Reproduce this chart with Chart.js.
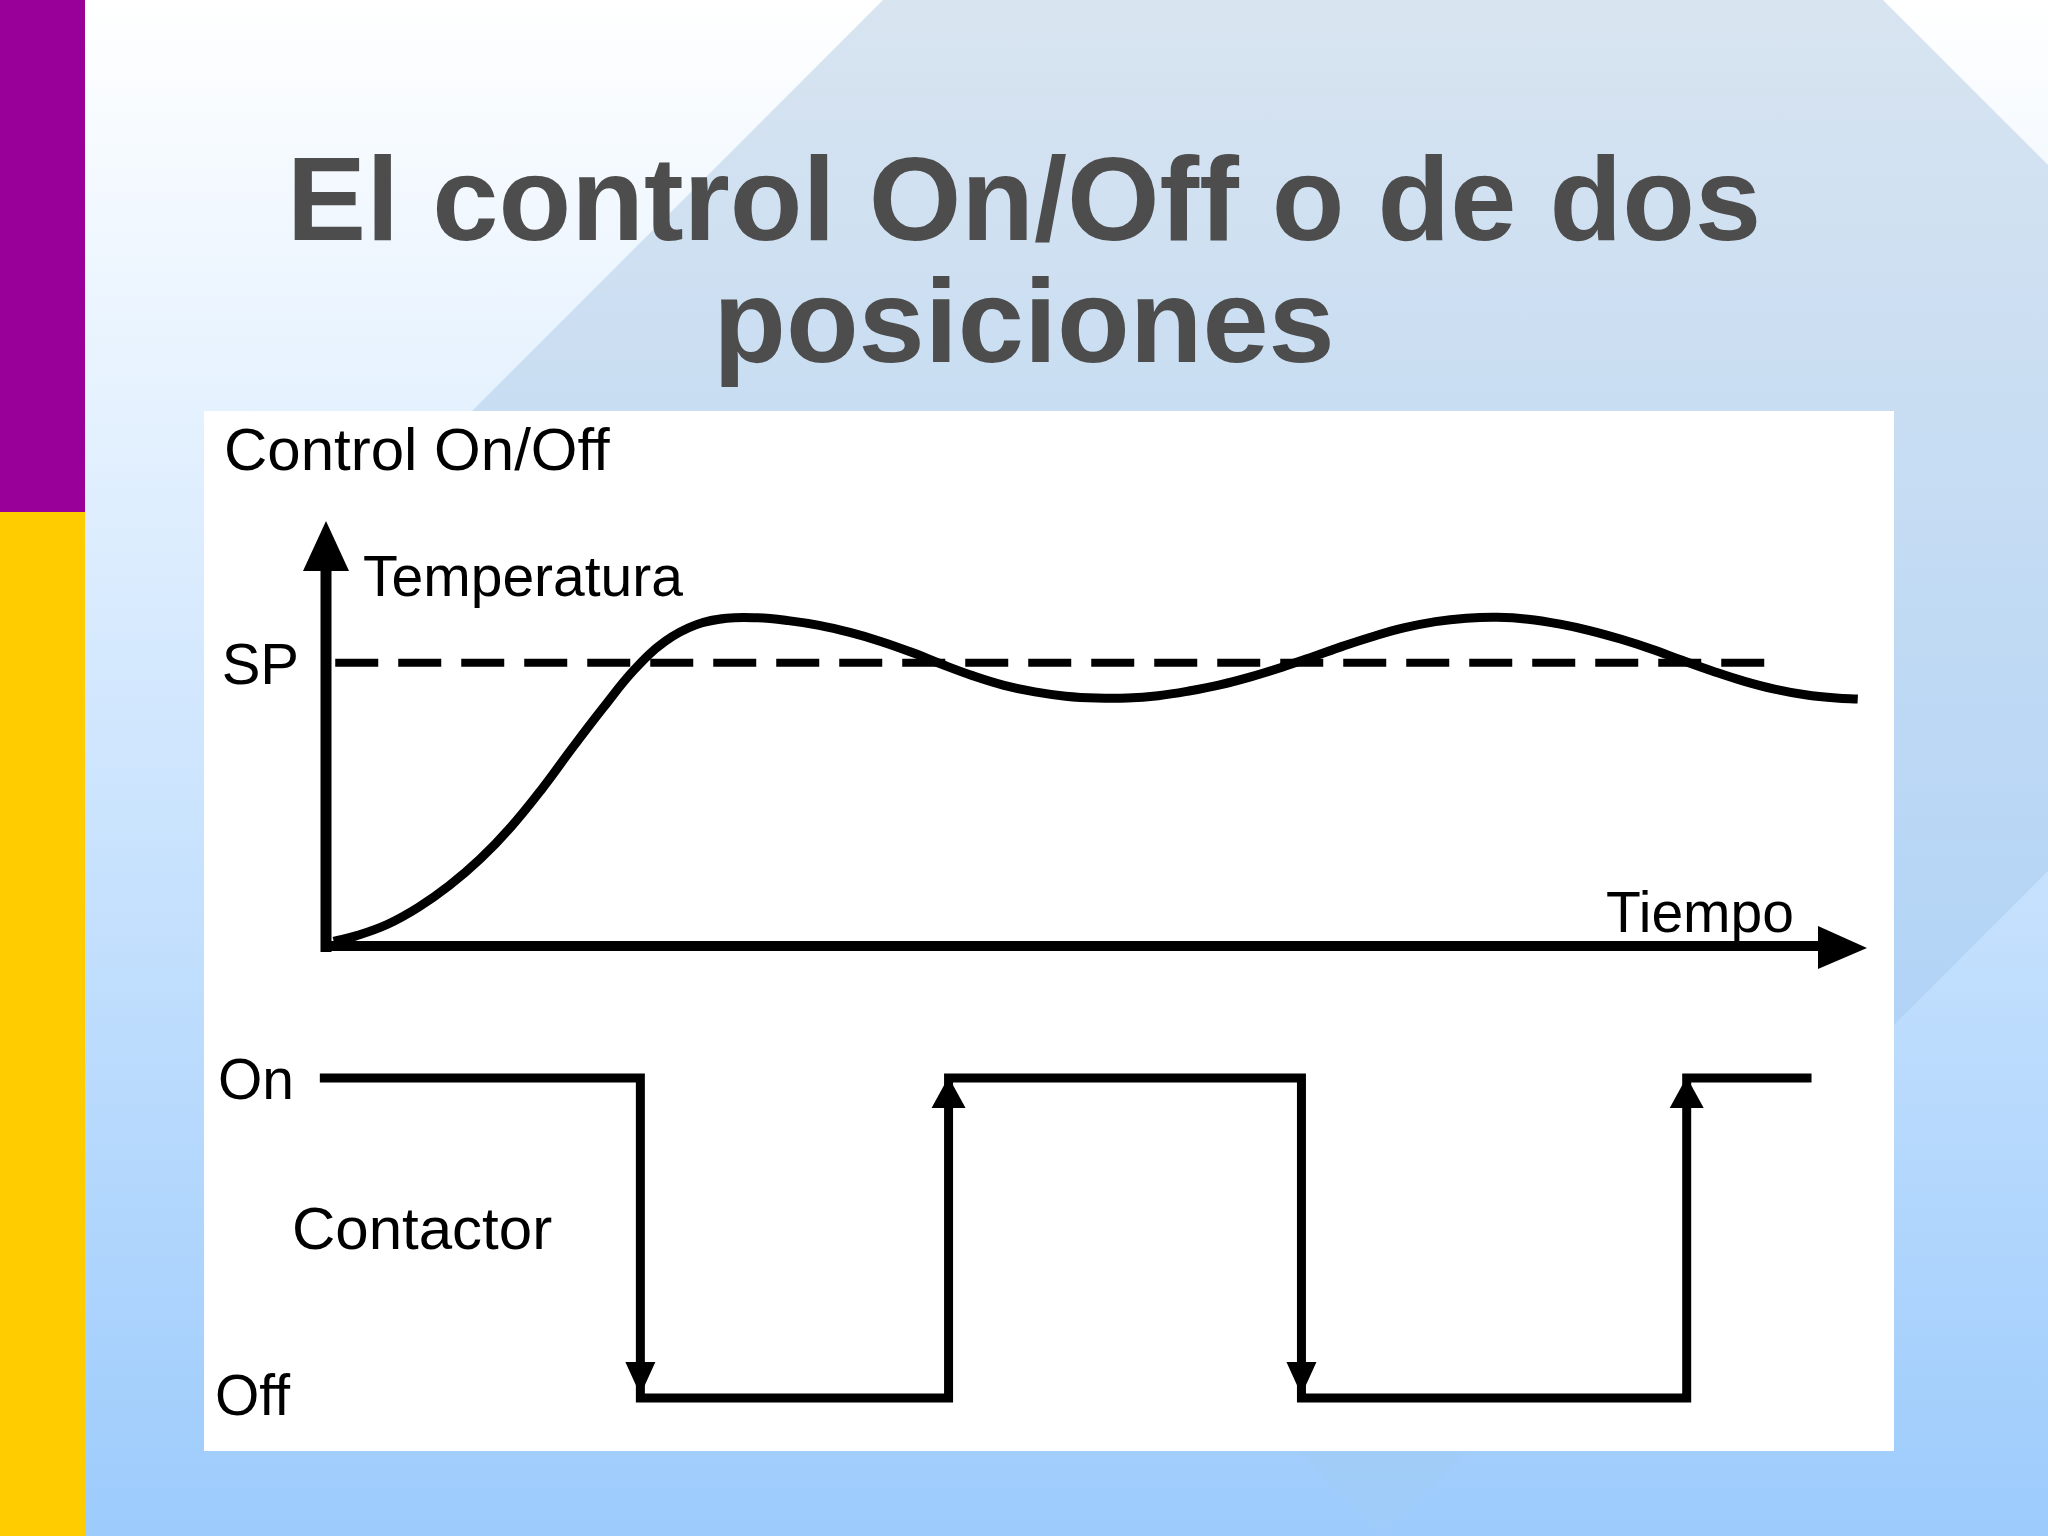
<!DOCTYPE html>
<html>
<head>
<meta charset="utf-8">
<script src="https://cdn.jsdelivr.net/npm/chart.js@4.4.1/dist/chart.umd.min.js"></script>
<style>
html,body{margin:0;padding:0;}
body{width:2048px;height:1536px;position:relative;overflow:hidden;
  background:linear-gradient(to bottom,#ffffff 0%,#9ccbfc 100%);
  font-family:"Liberation Sans",Arial,sans-serif;}
#diamond{position:absolute;left:0;top:0;width:2048px;height:1536px;
  background:linear-gradient(to bottom,#d8e4f0 0%,#9ecbf9 100%);
  clip-path:polygon(1383px -500px,2401px 518px,1383px 1536px,365px 518px);}
#purple{position:absolute;left:0;top:0;width:85px;height:512px;background:#990099;}
#yellow{position:absolute;left:0;top:512px;width:85px;height:1024px;background:#ffcc00;}
#title{position:absolute;left:0;top:138px;width:2048px;text-align:center;font-weight:bold;
  font-size:119px;line-height:122px;color:#4d4d4d;margin:0;}
#box{position:absolute;left:204px;top:411px;width:1690px;height:1040px;background:#ffffff;}
#box canvas{position:absolute;left:0;top:0;}
</style>
</head>
<body>
<div id="diamond"></div>
<div id="purple"></div>
<div id="yellow"></div>
<h1 id="title">El control On/Off o de dos<br>posiciones</h1>
<div id="box"><canvas id="c" width="1690" height="1040"></canvas></div>
<script>
// ---- data ----
const timeTemp = [0.5, 2, 4, 6, 8, 10, 12, 14, 16, 18, 20, 22, 24, 26, 28, 30, 32, 34, 36, 38,
  40, 42, 44, 46, 48, 50, 52, 54, 56, 58, 60, 62, 64, 66, 68, 70, 72, 74, 76, 78,
  80, 82, 84, 86, 88, 90, 92, 94, 96, 98, 99.4];
const temperature = [1.0, 2.2, 4.6, 8.2, 12.8, 18.4, 25.2, 33.2, 42.0, 50.5, 58.5, 64.5, 68.0, 69.4, 69.5, 68.9, 67.9, 66.4, 64.5, 62.2,
  59.6, 57.2, 55.2, 53.8, 52.9, 52.5, 52.5, 53.0, 54.0, 55.3, 57.0, 59.0, 61.2, 63.5, 65.6, 67.4, 68.7, 69.4, 69.6, 69.2,
  68.2, 66.8, 65.0, 62.9, 60.5, 58.2, 56.1, 54.4, 53.2, 52.5, 52.3];
const setPoint = 60;
const setPointSpan = [0.6, 94.6];
const contactorTime = [-0.4, 20.4, 40.4, 63.3, 88.3, 96.4];
const contactorState = [1, 0, 1, 0, 1, 1];
const stateNames = ['Off', 'On'];
const chartTitle = 'Control On/Off';
const yAxisTitle = 'Temperatura';
const xAxisTitle = 'Tiempo';
const spLabel = 'SP';
const contactorLabel = 'Contactor';

const F = '"Liberation Sans", Arial, sans-serif';

const diagramPlugin = {
  id: 'diagram',
  afterDatasetsDraw(chart) {
    const ctx = chart.ctx;
    const x = chart.scales.x, yT = chart.scales.yT, yC = chart.scales.yC;
    const x0 = x.getPixelForValue(0);
    const y0 = yT.getPixelForValue(0);
    const yTop = yT.getPixelForValue(yT.max);
    const xEnd = x.getPixelForValue(x.max);
    ctx.save();
    ctx.fillStyle = '#000';
    ctx.strokeStyle = '#000';
    ctx.lineCap = 'butt';
    // vertical axis with arrow
    ctx.lineWidth = 11;
    ctx.beginPath(); ctx.moveTo(x0, y0 + 6); ctx.lineTo(x0, yTop + 46); ctx.stroke();
    ctx.beginPath(); ctx.moveTo(x0, yTop); ctx.lineTo(x0 - 23, yTop + 50); ctx.lineTo(x0 + 23, yTop + 50); ctx.closePath(); ctx.fill();
    // horizontal axis with arrow
    ctx.lineWidth = 10;
    ctx.beginPath(); ctx.moveTo(x0 - 5, y0); ctx.lineTo(xEnd - 45, y0); ctx.stroke();
    ctx.beginPath(); ctx.moveTo(xEnd, y0 + 2); ctx.lineTo(xEnd - 49, y0 - 20); ctx.lineTo(xEnd - 49, y0 + 23); ctx.closePath(); ctx.fill();
    // contactor arrows
    for (let i = 1; i < contactorTime.length; i++) {
      if (contactorState[i] === contactorState[i - 1]) continue;
      const xp = x.getPixelForValue(contactorTime[i]);
      if (contactorState[i] < contactorState[i - 1]) {
        const tip = yC.getPixelForValue(0) - 3;
        ctx.beginPath(); ctx.moveTo(xp, tip); ctx.lineTo(xp - 15, tip - 33); ctx.lineTo(xp + 15, tip - 33); ctx.closePath(); ctx.fill();
      } else {
        const tip = yC.getPixelForValue(1) - 1;
        ctx.beginPath(); ctx.moveTo(xp, tip); ctx.lineTo(xp - 17, tip + 31); ctx.lineTo(xp + 17, tip + 31); ctx.closePath(); ctx.fill();
      }
    }
    // texts
    ctx.textBaseline = 'alphabetic';
    ctx.textAlign = 'left';
    ctx.font = '60px ' + F;
    ctx.fillText(chartTitle, 20, 59);
    ctx.font = '57px ' + F;
    ctx.fillText(yAxisTitle, x0 + 37, 185);
    ctx.textAlign = 'right';
    ctx.font = '58px ' + F;
    ctx.fillText(spLabel, x0 - 27, yT.getPixelForValue(setPoint) + 21);
    ctx.font = '57px ' + F;
    ctx.fillText(xAxisTitle, xEnd - 73, y0 - 14);
    ctx.textAlign = 'left';
    ctx.fillText(stateNames[1], 14, yC.getPixelForValue(1) + 21);
    ctx.fillText(stateNames[0], 11, yC.getPixelForValue(0) + 17);
    ctx.font = '60px ' + F;
    ctx.fillText(contactorLabel, 88, yC.getPixelForValue(0.5) + 11);
    ctx.restore();
  }
};

new Chart(document.getElementById('c'), {
  type: 'line',
  data: {
    datasets: [
      {
        label: yAxisTitle,
        data: timeTemp.map((t, i) => ({ x: t, y: temperature[i] })),
        yAxisID: 'yT',
        borderColor: '#000',
        borderWidth: 9,
        tension: 0.4,
        pointRadius: 0,
        fill: false,
        clip: false
      },
      {
        label: spLabel,
        data: setPointSpan.map(t => ({ x: t, y: setPoint })),
        yAxisID: 'yT',
        borderColor: '#000',
        borderWidth: 8,
        borderDash: [43, 20],
        borderCapStyle: 'butt',
        pointRadius: 0,
        fill: false,
        clip: false
      },
      {
        label: contactorLabel,
        data: contactorTime.map((t, i) => ({ x: t, y: contactorState[i] })),
        yAxisID: 'yC',
        borderColor: '#000',
        borderWidth: 9,
        stepped: 'before',
        borderJoinStyle: 'miter',
        borderCapStyle: 'butt',
        pointRadius: 0,
        fill: false,
        clip: false
      }
    ]
  },
  options: {
    responsive: false,
    devicePixelRatio: 1,
    animation: false,
    events: [],
    layout: { padding: { left: 122, right: 27, top: 110, bottom: 53 } },
    plugins: { legend: { display: false }, tooltip: { enabled: false }, title: { display: false } },
    scales: {
      x: { type: 'linear', min: 0, max: 100, display: false },
      yT: { type: 'linear', position: 'left', min: -95.72, max: 90, display: false },
      yC: { type: 'linear', position: 'left', min: 0, max: 2.7406, display: false }
    }
  },
  plugins: [diagramPlugin]
});
</script>
</body>
</html>
